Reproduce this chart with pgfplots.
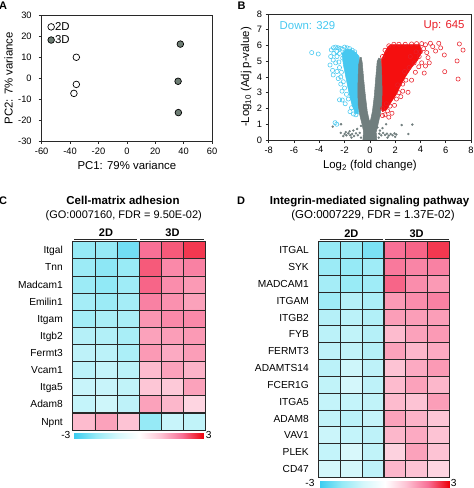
\documentclass[border=0pt]{standalone}
\usepackage{fontspec}
\setmainfont{Liberation Sans}
\usepackage{pgfplots}
\pgfplotsset{compat=1.18}
\usepackage{pgfplotstable}

\definecolor{cyanv}{RGB}{70,200,240}
\definecolor{redv}{RGB}{245,15,15}
\definecolor{redt}{RGB}{232,30,40}
\definecolor{grayv}{RGB}{112,126,126}
\definecolor{gray3d}{RGB}{110,125,116}
\definecolor{axisc}{RGB}{40,40,40}

\newcommand\tkf{\fontsize{9.3}{11}\selectfont}
\newcommand\lbf{\fontsize{11.4}{13}\selectfont}
\newcommand\rwf{\fontsize{10.2}{12}\selectfont}
\newcommand\hdf{\fontsize{11}{13}\selectfont}

\pgfplotsset{
  /pgf/number format/assume math mode=true,
  dotlegend/.style={legend image code/.code={\draw[##1] plot coordinates {(0pt,0pt)};}},
  hmmap/.style={colormap={hm}{rgb255(0pt)=(60,205,240); rgb255(1pt)=(150,234,246); rgb255(2pt)=(212,247,251); rgb255(3pt)=(255,255,255); rgb255(4pt)=(253,195,212); rgb255(5pt)=(248,112,150); rgb255(6pt)=(238,0,10)}},
  heat/.style={scale only axis, anchor=south west, clip=false,
    xmin=-0.5, xmax=5.5, ymin=-0.5, y dir=reverse,
    xtick=\empty,
    major tick length=0pt, minor tick length=0pt,
    yminorgrids=true,
    minor grid style={axisc, line width=0.7pt},
    axis on top, hmmap,
    axis line style={axisc, line width=0.8pt},
    yticklabel style={font=\rwf, anchor=base east, inner sep=0pt, xshift=-9.7pt, yshift=-3.6pt}},
  cbar/.style={scale only axis, anchor=south west, hide axis, view={0}{90},
    xmin=-3, xmax=3, ymin=0, ymax=1, hmmap},
}

\begin{document}
\begin{tikzpicture}
\useasboundingbox (0,0) rectangle (474pt,488pt);

% ---------------- Panel A ----------------
\begin{axis}[at={(41.7pt,347pt)}, anchor=south west, scale only axis,
  width=170.3pt, height=125.3pt,
  xmin=-60, xmax=60, ymin=-30, ymax=30,
  xtick={-60,-40,...,60}, ytick={-30,-20,...,30},
  tick pos=left, tick align=outside, major tick length=3pt,
  axis line style={axisc, line width=0.7pt}, tick style={axisc, line width=0.7pt},
  xticklabel style={font=\tkf}, yticklabel style={font=\tkf, xshift=-3.5pt},
  xlabel={PC1: 79\% variance}, ylabel={PC2: 7\% variance},
  every axis x label/.style={at={(axis description cs:0.5,-0.231)}, anchor=base, font=\lbf},
  every axis y label/.style={at={(axis description cs:-0.170,0.5)}, rotate=90, anchor=base, font=\lbf},
  legend style={at={(axis description cs:0.035,0.955)}, anchor=north west,
    draw=none, fill=none, inner sep=0pt, row sep=2.5pt, font=\lbf,
    nodes={inner sep=0.6pt, font=\lbf}},
  legend cell align=left,
]
\addplot[only marks, mark=o, mark size=3.3pt, black, line width=0.7pt, dotlegend]
  coordinates {(-35.6,10.1) (-35.6,-2.9) (-37.3,-7.2)};
\addlegendentry{2D}
\addplot[only marks, mark=*, mark size=3.3pt, black, mark options={fill=gray3d}, line width=0.7pt, dotlegend]
  coordinates {(37.7,16.4) (36.1,-1.4) (36.3,-16.4)};
\addlegendentry{3D}
\end{axis}

% ---------------- Panel B ----------------
\begin{axis}[at={(268.7pt,348pt)}, anchor=south west, scale only axis,
  width=202.3pt, height=126pt,
  xmin=-8, xmax=8, ymin=0, ymax=8,
  xtick={-8,-6,...,8}, ytick={0,1,2,3,4,5,6,7,8},
  tick pos=left, tick align=outside, major tick length=3pt,
  axis line style={axisc, line width=0.7pt}, tick style={axisc, line width=0.7pt},
  xticklabel style={font=\tkf}, yticklabel style={font=\tkf},
  xlabel={Log\textsubscript{2} (fold change)}, ylabel={-Log\textsubscript{10} (Adj p-value)},
  every axis x label/.style={at={(axis description cs:0.5,-0.228)}, anchor=base, font=\lbf},
  every axis y label/.style={at={(axis description cs:-0.097,0.5)}, rotate=90, anchor=base, font=\lbf},
]
% dense cores
\addplot[fill=redv, draw=redv, line width=0.5pt] coordinates {
 (0.92,2.0) (0.92,5.1) (1.2,5.6) (1.45,5.95) (1.7,6.05) (3.95,6.05) (4.1,5.6)
 (3.8,5.1) (3.3,4.6) (2.8,4.0) (2.4,3.4) (2.1,2.9) (1.6,2.3) (1.3,1.9) (1.0,1.8)} -- cycle;
\addplot[fill=cyanv, draw=cyanv, line width=0.5pt] coordinates {
 (-0.85,5.3) (-1.1,5.55) (-1.5,5.75) (-1.9,5.75) (-2.2,5.5) (-2.1,4.8) (-1.9,4.0)
 (-1.65,3.0) (-1.4,2.2) (-1.15,1.7) (-0.9,1.65)} -- cycle;
% open circles
\addplot[only marks, mark=o, mark size=2.1pt, draw=cyanv, line width=0.55pt] coordinates {
 (-4.6,5.55) (-4.08,5.46) (-3.05,5.72) (-2.88,5.86) (-2.7,5.9) (-2.52,5.86) (-2.35,5.82)
 (-2.18,5.78) (-2.0,5.9) (-1.8,5.85) (-1.6,5.8) (-1.4,5.7) (-1.2,5.6) (-2.62,5.62)
 (-2.85,5.5) (-3.1,5.3) (-2.9,5.08) (-2.6,5.3) (-2.4,5.5) (-3.15,4.76) (-2.7,4.9)
 (-2.45,4.95) (-2.95,4.42) (-2.9,4.13) (-2.6,4.35) (-2.4,4.6) (-2.25,4.3) (-2.5,3.9)
 (-2.3,3.55) (-2.1,3.7) (-2.2,3.1) (-2.0,3.3) (-1.85,2.9) (-2.4,2.55) (-2.18,2.54)
 (-1.95,2.3) (-1.7,2.6) (-1.57,1.8) (-1.45,2.05) (-1.3,1.65) (-1.1,1.6) (-2.75,1.1)
 (-2.62,1.0) (-2.3,4.0) (-2.15,5.2)};
\addplot[only marks, mark=o, mark size=2.1pt, draw=redt, line width=0.55pt] coordinates {
 (7.08,6.1) (7.37,5.71) (5.45,6.14) (4.97,5.93) (4.79,6.14) (4.4,6.05) (4.1,6.12)
 (5.89,5.4) (5.92,4.34) (6.9,5.02) (6.98,3.87) (5.2,5.65) (4.6,5.23) (4.5,5.55)
 (4.25,5.8) (3.87,4.65) (4.1,4.9) (4.4,4.7) (4.3,4.25) (3.6,4.3) (3.5,4.9) (3.9,5.3)
 (3.02,3.03) (3.3,3.8) (2.85,3.8) (2.6,3.55) (2.3,3.0) (2.1,2.6) (2.6,3.1) (1.75,1.7)
 (1.6,2.15) (1.4,1.85) (1.2,1.6) (1.0,1.55) (1.95,2.2) (2.75,4.35) (3.1,4.6) (3.65,5.6)
 (4.0,5.6) (3.7,6.12) (3.3,6.1) (2.8,6.08) (2.3,6.08) (1.9,6.08) (1.5,5.98) (1.2,5.7)
 (1.0,5.3) (1.3,2.3) (1.0,2.0) (2.2,3.5) (3.2,5.3) (4.7,4.9) (5.6,5.85) (2.45,2.75) (1.5,1.45)};
% gray V
\addplot[fill=grayv, draw=grayv, line width=0.5pt] coordinates {
 (-0.78,5.25) (-0.88,4.8) (-0.93,4.0) (-0.95,3.0) (-0.92,2.2) (-0.8,1.6) (-0.62,1.0)
 (-0.5,0.55) (-0.55,0.0) (0.55,0.0) (0.5,0.5) (0.65,1.0) (0.82,1.6) (0.93,2.2)
 (0.97,3.0) (0.95,4.0) (0.9,4.7) (0.85,5.15) (0.7,5.2) (0.58,5.0) (0.45,3.8) (0.35,2.8)
 (0.2,1.8) (0.05,1.25) (-0.05,1.25) (-0.2,1.8) (-0.35,2.8) (-0.48,3.8) (-0.6,4.9) (-0.68,5.25)} -- cycle;
\addplot[only marks, mark=*, mark size=1pt, grayv] coordinates {
 (-2.94,0.85) (-2.28,1.0) (-2.0,0.38) (-1.85,0.3) (-1.7,0.42) (-1.55,0.3) (-1.4,0.38)
 (-1.25,0.25) (-1.1,0.42) (-0.95,0.3) (-0.8,0.45) (-1.6,0.55) (-1.3,0.6) (-1.0,0.7)
 (-0.7,0.9) (-2.1,0.25) (-1.9,0.5) (0.6,0.8) (0.75,0.4) (0.9,0.3) (1.05,0.45) (1.2,0.32)
 (1.35,0.4) (1.5,0.28) (1.65,0.38) (1.8,0.3) (1.95,0.42) (2.1,0.35) (0.8,0.6) (1.0,0.75)
 (1.28,1.0) (2.52,0.95) (3.05,0.38) (3.36,0.98) (1.4,0.15) (-1.45,0.15) (0.7,0.15)
 (-0.7,0.15) (2.0,0.2) (-2.3,0.45) (-0.6,1.3) (0.6,1.4) (-0.75,1.8) (0.75,1.9)};
\node[text=cyanv, font=\lbf] at (axis cs:-4.93,7.24) {Down: 329};
\node[text=redt, font=\lbf] at (axis cs:5.87,7.24) {Up: 645};
\end{axis}

% ---------------- Panel C heatmap ----------------
\begin{axis}[heat, at={(72.7pt,58pt)}, width=133pt, height=188.3pt, ymax=10.5,
  point meta min=-3, point meta max=3,
  ytick={0,...,10},
  yticklabels={Itgal,Tnn,Madcam1,Emilin1,Itgam,Itgb2,Fermt3,Vcam1,Itga5,Adam8,Npnt},
  minor ytick={0.5,1.5,...,9.5}]
\addplot[matrix plot*, mesh/cols=6, point meta=explicit, point meta min=-3, point meta max=3] table[meta=c] {
x y c
0 0 -2.0
1 0 -2.0
2 0 -2.4
3 0 2.0
4 0 2.2
5 0 2.5
0 1 -1.9
1 1 -2.1
2 1 -1.95
3 1 2.2
4 1 1.7
5 1 1.8
0 2 -1.9
1 2 -2.05
2 2 -1.85
3 2 2.1
4 2 1.65
5 2 1.5
0 3 -1.75
1 3 -1.9
2 3 -1.75
3 3 1.8
4 3 1.6
5 3 1.4
0 4 -1.8
1 4 -1.7
2 4 -1.7
3 4 1.55
4 4 1.7
5 4 1.7
0 5 -1.5
1 5 -1.55
2 5 -1.7
3 5 1.4
4 5 1.45
5 5 1.5
0 6 -1.35
1 6 -1.4
2 6 -1.65
3 6 1.5
4 6 1.3
5 6 1.45
0 7 -1.4
1 7 -1.25
2 7 -1.4
3 7 1.1
4 7 1.4
5 7 1.2
0 8 -1.2
1 8 -1.2
2 8 -1.3
3 8 0.95
4 8 0.9
5 8 1.4
0 9 -1.25
1 9 -1.1
2 9 -1.35
3 9 1.4
4 9 1.15
5 9 0.7
0 10 1.1
1 10 1.4
2 10 1.0
3 10 -2.0
4 10 -1.2
5 10 -1.3
};
\draw[axisc, line width=0.7pt] (axis cs:0.5,-0.5) -- (axis cs:0.5,10.5);
\draw[axisc, line width=0.7pt] (axis cs:1.5,-0.5) -- (axis cs:1.5,10.5);
\draw[axisc, line width=0.7pt] (axis cs:3.5,-0.5) -- (axis cs:3.5,10.5);
\draw[axisc, line width=0.7pt] (axis cs:4.5,-0.5) -- (axis cs:4.5,10.5);
\draw[axisc, line width=1.2pt] (axis cs:2.5,-0.5) -- (axis cs:2.5,10.5);
\draw[axisc, line width=1.2pt] (axis cs:-0.5,9.5) -- (axis cs:5.5,9.5);
\draw[axisc, line width=0.8pt] ([yshift=2.5pt]axis cs:-0.44,-0.5) -- ([yshift=2.5pt]axis cs:2.4,-0.5);
\draw[axisc, line width=0.8pt] ([yshift=2.5pt]axis cs:2.54,-0.5) -- ([yshift=2.5pt]axis cs:5.42,-0.5);
\node[font=\hdf\bfseries, anchor=base] at ([yshift=5pt]axis cs:1,-0.5) {2D};
\node[font=\hdf\bfseries, anchor=base] at ([yshift=5pt]axis cs:4,-0.5) {3D};
\end{axis}

\begin{axis}[cbar, at={(74pt,49.4pt)}, width=130pt, height=6.3pt,
  point meta min=-3, point meta max=3]
\addplot3[surf, shader=interp, mesh/rows=2, point meta=x] coordinates {
(-3,0,0) (-2,0,0) (-1,0,0) (0,0,0) (1,0,0) (2,0,0) (3,0,0)

(-3,1,0) (-2,1,0) (-1,1,0) (0,1,0) (1,1,0) (2,1,0) (3,1,0)
};
\end{axis}

% ---------------- Panel D heatmap ----------------
\begin{axis}[heat, at={(318.7pt,10.7pt)}, width=130.6pt, height=235.6pt, ymax=13.5,
  point meta min=-3, point meta max=3,
  ytick={0,...,13},
  yticklabels={ITGAL,SYK,MADCAM1,ITGAM,ITGB2,FYB,FERMT3,ADAMTS14,FCER1G,ITGA5,ADAM8,VAV1,PLEK,CD47},
  minor ytick={0.5,1.5,...,12.5}]
\addplot[matrix plot*, mesh/cols=6, point meta=explicit, point meta min=-3, point meta max=3] table[meta=c] {
x y c
0 0 -2.0
1 0 -2.0
2 0 -2.3
3 0 2.0
4 0 2.1
5 0 2.5
0 1 -1.9
1 1 -2.0
2 1 -1.85
3 1 1.9
4 1 1.75
5 1 1.8
0 2 -1.75
1 2 -1.95
2 2 -1.85
3 2 2.1
4 2 1.65
5 2 1.5
0 3 -1.85
1 3 -1.5
2 3 -1.65
3 3 1.5
4 3 1.65
5 3 1.8
0 4 -1.5
1 4 -1.4
2 4 -1.55
3 4 1.45
4 4 1.45
5 4 1.45
0 5 -1.4
1 5 -1.3
2 5 -1.5
3 5 1.1
4 5 1.4
5 5 1.5
0 6 -1.35
1 6 -1.3
2 6 -1.5
3 6 1.4
4 6 1.15
5 6 1.3
0 7 -1.4
1 7 -1.1
2 7 -1.35
3 7 1.0
4 7 1.3
5 7 1.5
0 8 -1.3
1 8 -1.0
2 8 -1.35
3 8 1.1
4 8 1.4
5 8 1.15
0 9 -1.25
1 9 -1.25
2 9 -1.3
3 9 1.1
4 9 1.0
5 9 1.45
0 10 -1.3
1 10 -1.4
2 10 -1.25
3 10 1.4
4 10 1.2
5 10 0.95
0 11 -1.15
1 11 -1.25
2 11 -1.35
3 11 1.15
4 11 1.3
5 11 1.0
0 12 -1.25
1 12 -0.9
2 12 -1.3
3 12 0.75
4 12 1.4
5 12 1.0
0 13 -1.0
1 13 -1.0
2 13 -1.35
3 13 1.15
4 13 1.0
5 13 0.7
};
\draw[axisc, line width=0.7pt] (axis cs:0.5,-0.5) -- (axis cs:0.5,13.5);
\draw[axisc, line width=0.7pt] (axis cs:1.5,-0.5) -- (axis cs:1.5,13.5);
\draw[axisc, line width=0.7pt] (axis cs:3.5,-0.5) -- (axis cs:3.5,13.5);
\draw[axisc, line width=0.7pt] (axis cs:4.5,-0.5) -- (axis cs:4.5,13.5);
\draw[axisc, line width=1.2pt] (axis cs:2.5,-0.5) -- (axis cs:2.5,13.5);
\draw[axisc, line width=0.8pt] ([yshift=2.5pt]axis cs:-0.454,-0.5) -- ([yshift=2.5pt]axis cs:2.44,-0.5);
\draw[axisc, line width=0.8pt] ([yshift=2.5pt]axis cs:2.546,-0.5) -- ([yshift=2.5pt]axis cs:5.47,-0.5);
\node[font=\hdf\bfseries, anchor=base] at ([yshift=4.7pt]axis cs:1,-0.5) {2D};
\node[font=\hdf\bfseries, anchor=base] at ([yshift=4.7pt]axis cs:4,-0.5) {3D};
\end{axis}

\begin{axis}[cbar, at={(320pt,0.5pt)}, width=129.3pt, height=6.5pt,
  point meta min=-3, point meta max=3]
\addplot3[surf, shader=interp, mesh/rows=2, point meta=x] coordinates {
(-3,0,0) (-2,0,0) (-1,0,0) (0,0,0) (1,0,0) (2,0,0) (3,0,0)

(-3,1,0) (-2,1,0) (-1,1,0) (0,1,0) (1,1,0) (2,1,0) (3,1,0)
};
\end{axis}

% ---------------- texts ----------------
\node[font=\rwf] at (65.8pt,53pt) {-3};
\node[font=\rwf] at (208.8pt,53pt) {3};
\node[font=\rwf] at (310pt,5.5pt) {-3};
\node[font=\rwf] at (453.7pt,5.5pt) {3};

\node[font=\fontsize{11.5}{13}\selectfont\bfseries, anchor=base] at (123pt,283pt) {Cell-matrix adhesion};
\node[font=\fontsize{11}{13}\selectfont, anchor=base] at (123.8pt,269pt) {(GO:0007160, FDR = 9.50E-02)};
\node[font=\fontsize{11.5}{13}\selectfont\bfseries, anchor=base] at (369.5pt,283pt) {Integrin-mediated signaling pathway};
\node[font=\fontsize{11.5}{13}\selectfont, anchor=base] at (373pt,269pt) {(GO:0007229, FDR = 1.37E-02)};

\node[font=\fontsize{11}{13}\selectfont\bfseries, anchor=base] at (3pt,478pt) {A};
\node[font=\fontsize{11}{13}\selectfont\bfseries, anchor=base] at (241.5pt,478pt) {B};
\node[font=\fontsize{11}{13}\selectfont\bfseries, anchor=base] at (3pt,283pt) {C};
\node[font=\fontsize{11}{13}\selectfont\bfseries, anchor=base] at (241pt,283pt) {D};
\end{tikzpicture}
\end{document}
